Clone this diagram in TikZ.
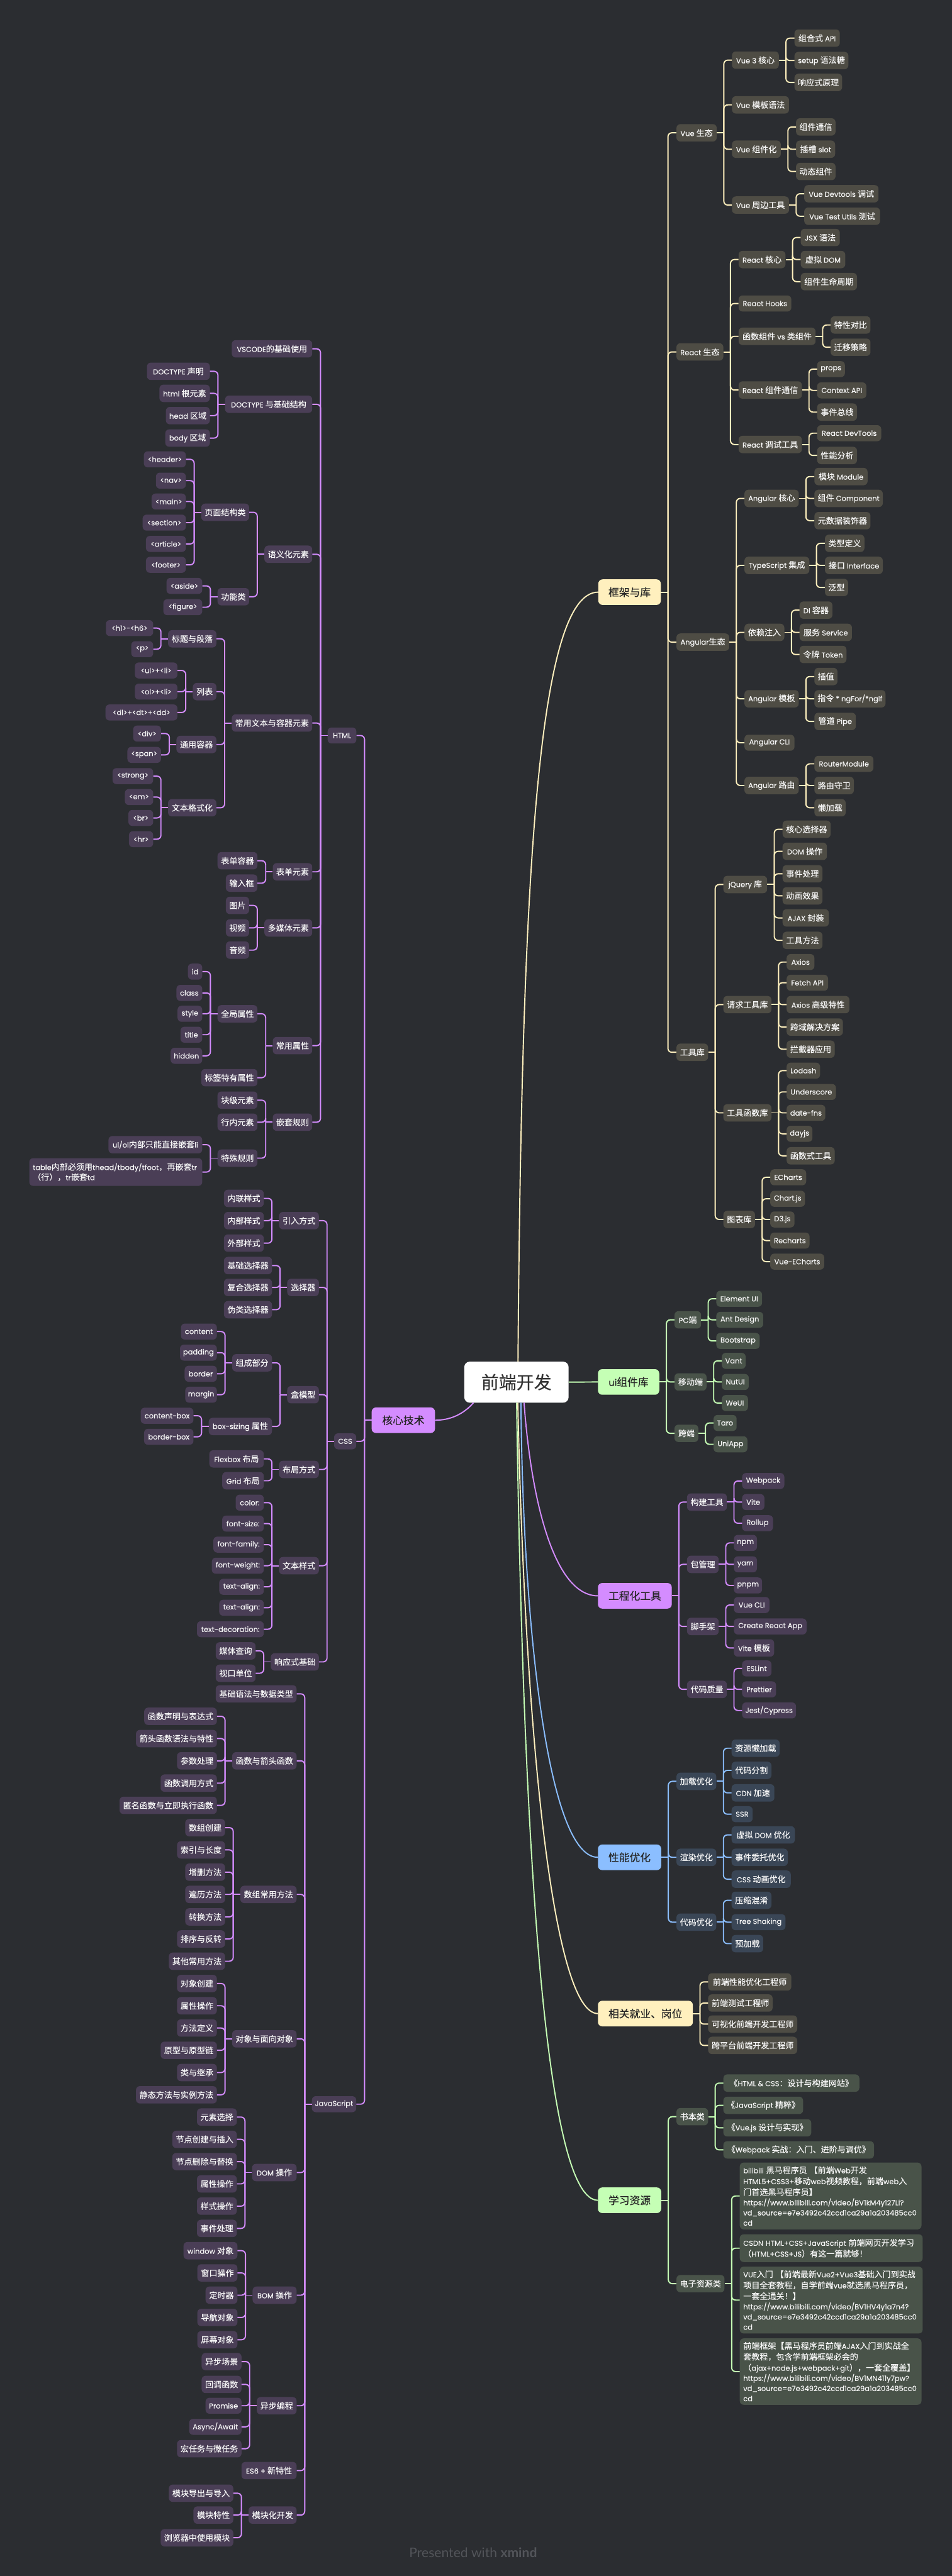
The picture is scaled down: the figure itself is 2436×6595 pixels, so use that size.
\documentclass[tikz,border=0pt]{standalone}
\usepackage{fontspec}
\setmainfont{Poppins}[Scale=0.88,FakeBold=0.2]
\newfontfamily\cjk{Noto Sans CJK SC}[FakeBold=0.25]
\newfontfamily\lat{Poppins}[Scale=0.88,FakeBold=0.2]
\newfontfamily\latofam{Lato}
\XeTeXinterchartokenstate=1
\chardef\cjkcl=7
\newcount\cc
\cc="3000 \loop \XeTeXcharclass\cc=\cjkcl \advance\cc 1 \ifnum\cc<"3040 \repeat
\cc="4E00 \loop \XeTeXcharclass\cc=\cjkcl \advance\cc 1 \ifnum\cc<"A000 \repeat
\cc="FF00 \loop \XeTeXcharclass\cc=\cjkcl \advance\cc 1 \ifnum\cc<"FFF0 \repeat
\XeTeXinterchartoks 0 \cjkcl={\cjk}
\XeTeXinterchartoks \cjkcl 0={\lat}
\XeTeXinterchartoks 4095 \cjkcl={\cjk}
\XeTeXinterchartoks \cjkcl 4095={\lat}
\definecolor{bg}{HTML}{2B2D31}
\definecolor{cy}{HTML}{FFF0BE}
\definecolor{cg}{HTML}{C5FFB5}
\definecolor{cp}{HTML}{D48CFF}
\definecolor{cb}{HTML}{8BBEFF}
\definecolor{fy}{HTML}{4E4C44}
\definecolor{fg}{HTML}{495349}
\definecolor{fp}{HTML}{4A3E56}
\definecolor{fb}{HTML}{3A4656}
\definecolor{tx}{HTML}{F6F6F6}
\definecolor{foot}{HTML}{53555A}
\tikzset{
 anybox/.style={inner sep=0pt,rounded corners=10pt,text=tx,minimum height=44.5pt,align=center,font=\fontsize{21}{26}\selectfont},
 ybox/.style={anybox,fill=fy},
 gbox/.style={anybox,fill=fg},
 pbox/.style={anybox,fill=fp},
 bbox/.style={anybox,fill=fb},
 lat/.style={minimum height=41pt},
 topic/.style={inner sep=0pt,rounded corners=11pt,text=black!85,minimum height=65.5pt,align=center,font=\fontsize{27}{32}\selectfont},
 ly/.style={draw=cy,line width=3.1pt},
 lg/.style={draw=cg,line width=3.1pt},
 lp/.style={draw=cp,line width=3.1pt},
 lb/.style={draw=cb,line width=3.1pt}
}
\newcommand\nd[6]{\pgfmathsetmacro\ncx{(#3+#4)/2}\pgfmathsetmacro\nw{#4-#3}\node[#1,minimum width=\nw pt] (#2) at (\ncx,#5) {#6};}
\newcommand\nm[6]{\pgfmathsetmacro\ncx{(#3+#4)/2}\pgfmathsetmacro\nw{#4-#3}\pgfmathsetmacro\tw{#4-#3-18}\node[#1,minimum width=\nw pt,text width=\tw pt,align=left] (#2) at (\ncx,#5) {#6};}
\newcommand\er[3]{\draw[#1] (#2.east) -- ++(18,0);\foreach \kid in {#3}{\draw[#1,rounded corners=10pt] (#2.east) ++(18,0) |- (\kid.west);}}
\newcommand\el[3]{\draw[#1] (#2.west) -- ++(-18,0);\foreach \kid in {#3}{\draw[#1,rounded corners=10pt] (#2.west) ++(-18,0) |- (\kid.east);}}
\begin{document}
\begin{tikzpicture}[x=1pt,y=-1pt]
\fill[bg] (0,0) rectangle (2436,6595);
\useasboundingbox (0,0) rectangle (2436,6595);
% root and topics
\node[inner sep=0pt,rounded corners=14pt,fill=white,text=black!80,minimum width=267pt,minimum height=105pt,font=\fontsize{45}{50}\selectfont] (root) at (1321.5,3538.5) {前端开发};
\nd{topic,fill=cy}{k1}{1531}{1691}{1516}{框架与库}
\nd{topic,fill=cg}{k2}{1530}{1687}{3538}{ui组件库}
\nd{topic,fill=cp}{k3}{951}{1113}{3636}{核心技术}
\nd{topic,fill=cp}{k4}{1530}{1719}{4085.5}{工程化工具}
\nd{topic,fill=cb}{k5}{1530}{1692}{4755}{性能优化}
\nd{topic,fill=cy}{k6}{1530}{1773}{5155}{相关就业、岗位}
\nd{topic,fill=cg}{k7}{1530}{1692}{5633}{学习资源}
% Vue
\nd{ybox}{vue}{1731}{1834}{340}{Vue 生态}
\nd{ybox}{v1}{1873}{1993}{154}{Vue 3 核心}
\nd{ybox}{v1a}{2033}{2149}{97.6}{组合式 API}
\nd{ybox}{v1b}{2033}{2171}{155}{setup 语法糖}
\nd{ybox}{v1c}{2033}{2155}{211}{响应式原理}
\nd{ybox}{v2}{1873}{2019}{268.5}{Vue 模板语法}
\nd{ybox}{v3}{1873}{1998}{382}{Vue 组件化}
\nd{ybox}{v3a}{2037}{2138}{325}{组件通信}
\nd{ybox}{v3b}{2037}{2137}{382}{插槽 slot}
\nd{ybox}{v3c}{2037}{2138}{439}{动态组件}
\nd{ybox}{v4}{1873}{2019}{525}{Vue 周边工具}
\nd{ybox}{v4a}{2058}{2248}{496}{Vue Devtools 调试}
\nd{ybox}{v4b}{2058}{2252}{553.6}{Vue Test Utils 测试}
% React
\nd{ybox}{rea}{1731}{1851}{901}{React 生态}
\nd{ybox}{r1}{1890}{2010}{664.5}{React 核心}
\nd{ybox}{r1a}{2049}{2149}{608}{JSX 语法}
\nd{ybox}{r1b}{2049}{2163}{664.5}{虚拟 DOM}
\nd{ybox}{r1c}{2049}{2193}{721}{组件生命周期}
\nd{ybox,lat}{r2}{1890}{2025}{777}{React Hooks}
\nd{ybox}{r3}{1890}{2087}{861}{函数组件 vs 类组件}
\nd{ybox}{r3a}{2125.5}{2227.5}{832}{特性对比}
\nd{ybox}{r3b}{2125.5}{2227.5}{889}{迁移策略}
\nd{ybox}{r4}{1890}{2052}{998.5}{React 组件通信}
\nd{ybox,lat}{r4a}{2091}{2162}{945}{props}
\nd{ybox,lat}{r4b}{2091}{2217}{999.5}{Context API}
\nd{ybox}{r4c}{2091}{2193}{1055}{事件总线}
\nd{ybox}{r5}{1890}{2052}{1138}{React 调试工具}
\nd{ybox,lat}{r5a}{2091}{2255}{1109}{React DevTools}
\nd{ybox}{r5b}{2091}{2193}{1166}{性能分析}
% Angular
\nd{ybox}{ang}{1731}{1866}{1644}{Angular生态}
\nd{ybox}{a1}{1905}{2044}{1276}{Angular 核心}
\nd{ybox}{a1a}{2084}{2220}{1220}{模块 Module}
\nd{ybox}{a1b}{2084}{2259}{1276}{组件 Component}
\nd{ybox}{a1c}{2084}{2227.5}{1333}{元数据装饰器}
\nd{ybox}{a2}{1905}{2071}{1447.5}{TypeScript 集成}
\nd{ybox}{a2a}{2111}{2212}{1391}{类型定义}
\nd{ybox}{a2b}{2111}{2259}{1447.5}{接口 Interface}
\nd{ybox}{a2c}{2111}{2170}{1504}{泛型}
\nd{ybox}{a3}{1905}{2007}{1619}{依赖注入}
\nd{ybox}{a3a}{2046}{2130}{1562}{DI 容器}
\nd{ybox}{a3b}{2046}{2180}{1619}{服务 Service}
\nd{ybox}{a3c}{2046}{2166}{1675.5}{令牌 Token}
\nd{ybox}{a4}{1905}{2044}{1789}{Angular 模板}
\nd{ybox}{a4a}{2084}{2143}{1732}{插值}
\nd{ybox}{a4b}{2084}{2266}{1789}{指令 * ngFor/*ngIf}
\nd{ybox}{a4c}{2084}{2190}{1847}{管道 Pipe}
\nd{ybox,lat}{a5}{1905}{2033}{1901.5}{Angular CLI}
\nd{ybox}{a6}{1905}{2044}{2011}{Angular 路由}
\nd{ybox,lat}{a6a}{2084}{2235}{1955.5}{RouterModule}
\nd{ybox}{a6b}{2084}{2185}{2011}{路由守卫}
\nd{ybox}{a6c}{2084}{2164}{2068}{懒加载}
% Tools
\nd{ybox}{too}{1731}{1812}{2694}{工具库}
\nd{ybox}{t1}{1851}{1963}{2264.5}{jQuery 库}
\nd{ybox}{t1a}{2002.5}{2125.5}{2123}{核心选择器}
\nd{ybox}{t1b}{2002.5}{2116}{2179.5}{DOM 操作}
\nd{ybox}{t1c}{2002.5}{2104.6}{2237}{事件处理}
\nd{ybox}{t1d}{2002.5}{2104.6}{2293.5}{动画效果}
\nd{ybox}{t1e}{2002.5}{2121}{2350}{AJAX 封装}
\nd{ybox}{t1f}{2002.5}{2104.6}{2407.5}{工具方法}
\nd{ybox}{t2}{1851}{1974}{2572}{请求工具库}
\nd{ybox,lat}{t2a}{2013}{2084}{2463}{Axios}
\nd{ybox,lat}{t2b}{2013}{2119}{2516}{Fetch API}
\nd{ybox}{t2c}{2013}{2173.5}{2572}{Axios 高级特性}
\nd{ybox}{t2d}{2013}{2157}{2629.5}{跨域解决方案}
\nd{ybox}{t2e}{2013}{2136}{2686}{拦截器应用}
\nd{ybox}{t3}{1851}{1974}{2849}{工具函数库}
\nd{ybox,lat}{t3a}{2013}{2098.5}{2741}{Lodash}
\nd{ybox,lat}{t3b}{2013}{2139}{2795.5}{Underscore}
\nd{ybox,lat}{t3c}{2013}{2112}{2849}{date-fns}
\nd{ybox,lat}{t3d}{2013}{2079}{2902.7}{dayjs}
\nd{ybox}{t3e}{2013}{2136}{2959}{函数式工具}
\nd{ybox}{t4}{1851}{1932}{3122}{图表库}
\nd{ybox,lat}{t4a}{1971}{2063}{3014}{ECharts}
\nd{ybox,lat}{t4b}{1971}{2060}{3069}{Chart.js}
\nd{ybox,lat}{t4c}{1971}{2033}{3122}{D3.js}
\nd{ybox,lat}{t4d}{1971}{2071.5}{3176}{Recharts}
\nd{ybox,lat}{t4e}{1971}{2109}{3230}{Vue-ECharts}
% UI
\nd{gbox}{u1}{1726}{1794}{3379}{PC端}
\nd{gbox,lat}{u1a}{1833}{1950}{3325}{Element UI}
\nd{gbox,lat}{u1b}{1833}{1953}{3379}{Ant Design}
\nd{gbox,lat}{u1c}{1833}{1944}{3433}{Bootstrap}
\nd{gbox}{u2}{1726}{1808}{3538}{移动端}
\nd{gbox,lat}{u2a}{1847}{1908}{3484}{Vant}
\nd{gbox,lat}{u2b}{1847}{1916}{3538}{NutUI}
\nd{gbox,lat}{u2c}{1847}{1914}{3592}{WeUI}
\nd{gbox}{u3}{1726}{1787}{3669.5}{跨端}
\nd{gbox,lat}{u3a}{1826}{1885}{3643}{Taro}
\nd{gbox,lat}{u3b}{1826}{1912.5}{3697.6}{UniApp}
% Engineering
\nd{pbox}{e1}{1758}{1860}{3845.6}{构建工具}
\nd{pbox,lat}{e1a}{1899}{2007}{3791.6}{Webpack}
\nd{pbox,lat}{e1b}{1899}{1956}{3845.6}{Vite}
\nd{pbox,lat}{e1c}{1899}{1978}{3899.6}{Rollup}
\nd{pbox}{e2}{1758}{1839}{4005}{包管理}
\nd{pbox,lat}{e2a}{1878}{1937}{3950}{npm}
\nd{pbox,lat}{e2b}{1878}{1937}{4005}{yarn}
\nd{pbox,lat}{e2c}{1878}{1950}{4059}{pnpm}
\nd{pbox}{e3}{1758}{1839}{4164}{脚手架}
\nd{pbox,lat}{e3a}{1878}{1969}{4109}{Vue CLI}
\nd{pbox,lat}{e3b}{1878}{2064}{4164}{Create React App}
\nd{pbox}{e3c}{1878}{1981}{4219}{Vite 模板}
\nd{pbox}{e4}{1758}{1860}{4325}{代码质量}
\nd{pbox,lat}{e4a}{1899}{1974}{4271.4}{ESLint}
\nd{pbox,lat}{e4b}{1899}{1986}{4325}{Prettier}
\nd{pbox,lat}{e4c}{1899}{2037}{4379}{Jest/Cypress}
% Performance
\nd{bbox}{p1}{1731}{1833}{4560.5}{加载优化}
\nd{bbox}{p1a}{1872}{1995}{4475.6}{资源懒加载}
\nd{bbox}{p1b}{1872}{1974}{4532.4}{代码分割}
\nd{bbox}{p1c}{1872}{1981.6}{4590}{CDN 加速}
\nd{bbox,lat}{p1d}{1872}{1926}{4644.6}{SSR}
\nd{bbox}{p2}{1731}{1833}{4755}{渲染优化}
\nd{bbox}{p2a}{1872}{2034}{4697.6}{虚拟 DOM 优化}
\nd{bbox}{p2b}{1872}{2016}{4755}{事件委托优化}
\nd{bbox}{p2c}{1872}{2023.5}{4811}{CSS 动画优化}
\nd{bbox}{p3}{1731}{1833}{4921}{代码优化}
\nd{bbox}{p3a}{1872}{1974}{4865}{压缩混淆}
\nd{bbox,lat}{p3b}{1872}{2010}{4921}{Tree Shaking}
\nd{bbox}{p3c}{1872}{1953}{4976}{预加载}
% Jobs
\nd{ybox}{j1}{1812}{2025}{5074}{前端性能优化工程师}
\nd{ybox}{j2}{1812}{1977}{5128}{前端测试工程师}
\nd{ybox}{j3}{1812}{2040}{5182}{可视化前端开发工程师}
\nd{ybox}{j4}{1812}{2040}{5236.5}{跨平台前端开发工程师}
% Learning
\nd{gbox}{l1}{1731}{1812}{5419}{书本类}
\nd{gbox}{l1a}{1851}{2199}{5333}{《HTML \& CSS：设计与构建网站》}
\nd{gbox}{l1b}{1851}{2055}{5390}{《JavaScript 精粹》}
\nd{gbox}{l1c}{1851}{2076}{5447.5}{《Vue.js 设计与实现》}
\nd{gbox}{l1d}{1851}{2236.5}{5504}{《Webpack 实战：入门、进阶与调优》}
\nd{gbox}{l2}{1731}{1854}{5846.5}{电子资源类}
\nm{gbox,minimum height=171pt}{l2a}{1893}{2358}{5622}{bilibili 黑马程序员 【前端Web开发\\[2pt]HTML5+CSS3+移动web视频教程，前端web入\\[2pt]门首选黑马程序员】\\https://www.bilibili.com/video/BV1kM4y127Li?\\vd\_source=e7e3492c42ccd1ca29a1a203485cc0\\cd}
\nm{gbox,minimum height=71pt}{l2b}{1893}{2361}{5755.6}{CSDN HTML+CSS+JavaScript 前端网页开发学习\\[2pt]（HTML+CSS+JS）有这一篇就够！}
\nm{gbox,minimum height=171pt}{l2c}{1893}{2361}{5888.5}{VUE入门 【前端最新Vue2+Vue3基础入门到实战\\[2pt]项目全套教程，自学前端vue就选黑马程序员，\\[2pt]一套全通关！】\\https://www.bilibili.com/video/BV1HV4y1a7n4?\\vd\_source=e7e3492c42ccd1ca29a1a203485cc0\\cd}
\nm{gbox,minimum height=170pt}{l2d}{1893}{2358}{6071.6}{前端框架【黑马程序员前端AJAX入门到实战全\\[2pt]套教程，包含学前端框架必会的\\[2pt]（ajax+node.js+webpack+git），一套全覆盖】\\https://www.bilibili.com/video/BV1MN411y7pw?\\vd\_source=e7e3492c42ccd1ca29a1a203485cc0\\cd}
% HTML
\nd{pbox,lat}{html}{838.4}{912}{1883}{HTML}
\nd{pbox}{h1}{593}{799}{893}{VSCODE的基础使用}
\nd{pbox}{h2}{576}{799}{1035}{DOCTYPE 与基础结构}
\nd{pbox}{h2a}{376}{537}{950.6}{DOCTYPE 声明}
\nd{pbox}{h2b}{408}{537}{1007}{html 根元素}
\nd{pbox}{h2c}{424.5}{537}{1064}{head 区域}
\nd{pbox}{h2d}{423}{537}{1121.5}{body 区域}
\nd{pbox}{h3}{676.5}{799}{1419}{语义化元素}
\nd{pbox}{h31}{515}{637.5}{1311.5}{页面结构类}
\nd{pbox,lat}{h31a}{368}{475.6}{1176}{<header>}
\nd{pbox,lat}{h31b}{399}{475.6}{1230.5}{<nav>}
\nd{pbox,lat}{h31c}{388}{475.6}{1284}{<main>}
\nd{pbox,lat}{h31d}{365}{475.6}{1338}{<section>}
\nd{pbox,lat}{h31e}{373.5}{475.6}{1392.5}{<article>}
\nd{pbox,lat}{h31f}{373.5}{475.6}{1446}{<footer>}
\nd{pbox}{h32}{556.6}{637.5}{1527.7}{功能类}
\nd{pbox,lat}{h32a}{426}{517.5}{1500}{<aside>}
\nd{pbox,lat}{h32b}{418}{517.5}{1554.5}{<figure>}
\nd{pbox}{h4}{593}{799}{1851}{常用文本与容器元素}
\nd{pbox}{h41}{430}{553.7}{1635.5}{标题与段落}
\nd{pbox,lat}{h41a}{271}{392}{1608}{<h1>-<h6>}
\nd{pbox,lat}{h41b}{336}{392}{1662}{<p>}
\nd{pbox}{h42}{493.4}{553.7}{1770.7}{列表}
\nd{pbox,lat}{h42a}{345}{454}{1716.5}{<ul>+<li>}
\nd{pbox,lat}{h42b}{345}{454}{1770.7}{<ol>+<li>}
\nd{pbox,lat}{h42c}{270}{454}{1824}{<dl>+<dt>+<dd>}
\nd{pbox}{h43}{451.5}{553.7}{1906}{通用容器}
\nd{pbox,lat}{h43a}{340.7}{412}{1878}{<div>}
\nd{pbox,lat}{h43b}{326}{412}{1932.6}{<span>}
\nd{pbox}{h44}{430}{553.7}{2068}{文本格式化}
\nd{pbox,lat}{h44a}{288}{392}{1987}{<strong>}
\nd{pbox,lat}{h44b}{319.5}{392}{2040.6}{<em>}
\nd{pbox,lat}{h44c}{328.6}{392}{2094}{<br>}
\nd{pbox,lat}{h44d}{330}{392}{2148.5}{<hr>}
\nd{pbox}{h5}{698}{799}{2232}{表单元素}
\nd{pbox}{h5a}{556.6}{658.7}{2203.6}{表单容器}
\nd{pbox}{h5b}{578}{658.7}{2261}{输入框}
\nd{pbox}{h6}{676.5}{799}{2375.6}{多媒体元素}
\nd{pbox}{h6a}{578}{637.5}{2318}{图片}
\nd{pbox}{h6b}{578}{637.5}{2375.6}{视频}
\nd{pbox}{h6c}{578}{637.5}{2432.4}{音频}
\nd{pbox}{h7}{698}{799}{2677}{常用属性}
\nd{pbox}{h71}{556.6}{658.7}{2595.4}{全局属性}
\nd{pbox,lat}{h71a}{481}{517.5}{2487.5}{id}
\nd{pbox,lat}{h71b}{451.5}{517.5}{2542}{class}
\nd{pbox,lat}{h71c}{454.4}{517.5}{2595.4}{style}
\nd{pbox,lat}{h71d}{462}{517.5}{2649}{title}
\nd{pbox,lat}{h71e}{436.6}{517.5}{2703}{hidden}
\nd{pbox}{h72}{515}{658.7}{2759}{标签特有属性}
\nd{pbox}{h8}{698}{799}{2873}{嵌套规则}
\nd{pbox}{h8a}{556.6}{658.7}{2816.6}{块级元素}
\nd{pbox}{h8b}{556.6}{658.7}{2873}{行内元素}
\nd{pbox}{h8c}{556.6}{658.7}{2965}{特殊规则}
\nd{pbox}{h8c1}{277.6}{517.5}{2930.6}{ul/ol内部只能直接嵌套li}
\nm{pbox,minimum height=71pt}{h8c2}{75}{517.5}{3000.6}{table内部必须用thead/tbody/tfoot，再嵌套tr\\（行），tr嵌套td}
% CSS
\nd{pbox,lat}{css}{855}{911.6}{3690}{CSS}
\nd{pbox}{c1}{714}{816}{3125}{引入方式}
\nd{pbox}{c1a}{573}{675}{3068}{内联样式}
\nd{pbox}{c1b}{573}{675}{3125}{内部样式}
\nd{pbox}{c1c}{573}{675}{3182.6}{外部样式}
\nd{pbox}{c2}{735}{816}{3296}{选择器}
\nd{pbox}{c2a}{573}{696}{3240}{基础选择器}
\nd{pbox}{c2b}{573}{696}{3296}{复合选择器}
\nd{pbox}{c2c}{573}{696}{3353}{伪类选择器}
\nd{pbox}{c3}{735}{816}{3570.6}{盒模型}
\nd{pbox}{c31}{594}{696}{3489}{组成部分}
\nd{pbox,lat}{c31a}{463}{555}{3409}{content}
\nd{pbox,lat}{c31b}{460.6}{555}{3463}{padding}
\nd{pbox,lat}{c31c}{472.5}{555}{3517}{border}
\nd{pbox,lat}{c31d}{474}{555}{3570.6}{margin}
\nd{pbox}{c32}{534}{696}{3652}{box-sizing 属性}
\nd{pbox,lat}{c32a}{360}{495}{3624.5}{content-box}
\nd{pbox,lat}{c32b}{368.7}{495}{3678.4}{border-box}
\nd{pbox}{c4}{714}{816}{3762}{布局方式}
\nd{pbox}{c4a}{535.6}{675}{3735}{Flexbox 布局}
\nd{pbox}{c4b}{568.6}{675}{3791}{Grid 布局}
\nd{pbox}{c5}{714}{816}{4008.4}{文本样式}
\nd{pbox,lat}{c5a}{603}{675}{3847}{color:}
\nd{pbox,lat}{c5b}{568.6}{675}{3900.6}{font-size:}
\nd{pbox,lat}{c5c}{546}{675}{3954.5}{font-family:}
\nd{pbox,lat}{c5d}{542}{675}{4008.4}{font-weight:}
\nd{pbox,lat}{c5e}{561}{675}{4062.4}{text-align:}
\nd{pbox,lat}{c5f}{561}{675}{4116}{text-align:}
\nd{pbox,lat}{c5g}{504}{675}{4171}{text-decoration:}
\nd{pbox}{c6}{693}{816}{4254.7}{响应式基础}
\nd{pbox}{c6a}{552}{654}{4226.5}{媒体查询}
\nd{pbox}{c6b}{552}{654}{4283.7}{视口单位}
% JavaScript
\nd{pbox,lat}{js}{798}{911.6}{5387}{JavaScript}
\nd{pbox}{s1}{552}{759}{4336.5}{基础语法与数据类型}
\nd{pbox}{s2}{594}{759}{4508}{函数与箭头函数}
\nd{pbox}{s2a}{369}{555}{4394}{函数声明与表达式}
\nd{pbox}{s2b}{348}{555}{4451}{箭头函数语法与特性}
\nd{pbox}{s2c}{453}{555}{4508}{参数处理}
\nd{pbox}{s2d}{411}{555}{4565}{函数调用方式}
\nd{pbox}{s2e}{306}{555}{4622}{匿名函数与立即执行函数}
\nd{pbox}{s3}{615}{759}{4850}{数组常用方法}
\nd{pbox}{s3a}{474}{576}{4679}{数组创建}
\nd{pbox}{s3b}{453}{576}{4736}{索引与长度}
\nd{pbox}{s3c}{474}{576}{4793}{增删方法}
\nd{pbox}{s3d}{474}{576}{4850}{遍历方法}
\nd{pbox}{s3e}{474}{576}{4907.5}{转换方法}
\nd{pbox}{s3f}{453}{576}{4964}{排序与反转}
\nd{pbox}{s3g}{432}{576}{5021}{其他常用方法}
\nd{pbox}{s4}{594}{759}{5219.7}{对象与面向对象}
\nd{pbox}{s4a}{453}{555}{5078}{对象创建}
\nd{pbox}{s4b}{453}{555}{5135}{属性操作}
\nd{pbox}{s4c}{453}{555}{5192}{方法定义}
\nd{pbox}{s4d}{411}{555}{5249}{原型与原型链}
\nd{pbox}{s4e}{453}{555}{5306}{类与继承}
\nd{pbox}{s4f}{348}{555}{5363}{静态方法与实例方法}
\nd{pbox}{s5}{645}{759}{5562}{DOM 操作}
\nd{pbox}{s5a}{504}{606}{5420}{元素选择}
\nd{pbox}{s5b}{441}{606}{5477}{节点创建与插入}
\nd{pbox}{s5c}{441}{606}{5534}{节点删除与替换}
\nd{pbox}{s5d}{504}{606}{5591}{属性操作}
\nd{pbox}{s5e}{504}{606}{5648}{样式操作}
\nd{pbox}{s5f}{504}{606}{5705}{事件处理}
\nd{pbox}{s6}{646.4}{759}{5876}{BOM 操作}
\nd{pbox}{s6a}{469.6}{607.6}{5762}{window 对象}
\nd{pbox}{s6b}{505}{607.6}{5819}{窗口操作}
\nd{pbox}{s6c}{526}{607.6}{5876}{定时器}
\nd{pbox}{s6d}{505}{607.6}{5933}{导航对象}
\nd{pbox}{s6e}{505}{607.6}{5990}{屏幕对象}
\nd{pbox}{s7}{657}{759}{6159}{异步编程}
\nd{pbox}{s7a}{516}{618}{6046}{异步场景}
\nd{pbox}{s7b}{516}{618}{6104.5}{回调函数}
\nd{pbox,lat}{s7c}{526}{618}{6159}{Promise}
\nd{pbox,lat}{s7d}{484}{618}{6213}{Async/Await}
\nd{pbox}{s7e}{453}{618}{6269}{宏任务与微任务}
\nd{pbox}{s8}{618}{759}{6325}{ES6 + 新特性}
\nd{pbox}{s9}{636}{759}{6439}{模块化开发}
\nd{pbox}{s9a}{432}{597}{6383}{模块导出与导入}
\nd{pbox}{s9b}{495}{597}{6439}{模块特性}
\nd{pbox}{s9c}{411}{597}{6497}{浏览器中使用模块}
\node[inner sep=0pt,text=foot,anchor=base west,font={\latofam\fontsize{34}{40}\selectfont}] (brand) at (1047,6548) {Presented with \textbf{xmind}};
% connectors
\draw[ly] ([xshift=4pt]root.north) .. controls (1335,2200) and (1380,1516) .. (k1.west);
\draw[lg] (root.east) -- (k2.west);
\draw[lp] ([xshift=-110pt]root.south) .. controls (1185,3622) and (1150,3636) .. (k3.east);
\draw[lp] ([xshift=19.5pt]root.south) .. controls (1360,3850) and (1420,4085.5) .. (k4.west);
\draw[lb] ([xshift=11.5pt]root.south) .. controls (1338,4150) and (1400,4755) .. (k5.west);
\draw[ly] ([xshift=3.5pt]root.south) .. controls (1345,4500) and (1420,5155) .. (k6.west);
\draw[lg] ([xshift=0.5pt]root.south) .. controls (1340,4800) and (1400,5633) .. (k7.west);
\er{ly}{k1}{vue,rea,ang,too}
\er{ly}{vue}{v1,v2,v3,v4}
\er{ly}{v1}{v1a,v1b,v1c}
\er{ly}{v3}{v3a,v3b,v3c}
\er{ly}{v4}{v4a,v4b}
\er{ly}{rea}{r1,r2,r3,r4,r5}
\er{ly}{r1}{r1a,r1b,r1c}
\er{ly}{r3}{r3a,r3b}
\er{ly}{r4}{r4a,r4b,r4c}
\er{ly}{r5}{r5a,r5b}
\er{ly}{ang}{a1,a2,a3,a4,a5,a6}
\er{ly}{a1}{a1a,a1b,a1c}
\er{ly}{a2}{a2a,a2b,a2c}
\er{ly}{a3}{a3a,a3b,a3c}
\er{ly}{a4}{a4a,a4b,a4c}
\er{ly}{a6}{a6a,a6b,a6c}
\er{ly}{too}{t1,t2,t3,t4}
\er{ly}{t1}{t1a,t1b,t1c,t1d,t1e,t1f}
\er{ly}{t2}{t2a,t2b,t2c,t2d,t2e}
\er{ly}{t3}{t3a,t3b,t3c,t3d,t3e}
\er{ly}{t4}{t4a,t4b,t4c,t4d,t4e}
\er{lg}{k2}{u1,u2,u3}
\er{lg}{u1}{u1a,u1b,u1c}
\er{lg}{u2}{u2a,u2b,u2c}
\er{lg}{u3}{u3a,u3b}
\er{lp}{k4}{e1,e2,e3,e4}
\er{lp}{e1}{e1a,e1b,e1c}
\er{lp}{e2}{e2a,e2b,e2c}
\er{lp}{e3}{e3a,e3b,e3c}
\er{lp}{e4}{e4a,e4b,e4c}
\er{lb}{k5}{p1,p2,p3}
\er{lb}{p1}{p1a,p1b,p1c,p1d}
\er{lb}{p2}{p2a,p2b,p2c}
\er{lb}{p3}{p3a,p3b,p3c}
\er{ly}{k6}{j1,j2,j3,j4}
\er{lg}{k7}{l1,l2}
\er{lg}{l1}{l1a,l1b,l1c,l1d}
\er{lg}{l2}{l2a,l2b,l2c,l2d}
\el{lp}{k3}{html,css,js}
\el{lp}{html}{h1,h2,h3,h4,h5,h6,h7,h8}
\el{lp}{h2}{h2a,h2b,h2c,h2d}
\el{lp}{h3}{h31,h32}
\el{lp}{h31}{h31a,h31b,h31c,h31d,h31e,h31f}
\el{lp}{h32}{h32a,h32b}
\el{lp}{h4}{h41,h42,h43,h44}
\el{lp}{h41}{h41a,h41b}
\el{lp}{h42}{h42a,h42b,h42c}
\el{lp}{h43}{h43a,h43b}
\el{lp}{h44}{h44a,h44b,h44c,h44d}
\el{lp}{h5}{h5a,h5b}
\el{lp}{h6}{h6a,h6b,h6c}
\el{lp}{h7}{h71,h72}
\el{lp}{h71}{h71a,h71b,h71c,h71d,h71e}
\el{lp}{h8}{h8a,h8b,h8c}
\el{lp}{h8c}{h8c1,h8c2}
\el{lp}{css}{c1,c2,c3,c4,c5,c6}
\el{lp}{c1}{c1a,c1b,c1c}
\el{lp}{c2}{c2a,c2b,c2c}
\el{lp}{c3}{c31,c32}
\el{lp}{c31}{c31a,c31b,c31c,c31d}
\el{lp}{c32}{c32a,c32b}
\el{lp}{c4}{c4a,c4b}
\el{lp}{c5}{c5a,c5b,c5c,c5d,c5e,c5f,c5g}
\el{lp}{c6}{c6a,c6b}
\el{lp}{js}{s1,s2,s3,s4,s5,s6,s7,s8,s9}
\el{lp}{s2}{s2a,s2b,s2c,s2d,s2e}
\el{lp}{s3}{s3a,s3b,s3c,s3d,s3e,s3f,s3g}
\el{lp}{s4}{s4a,s4b,s4c,s4d,s4e,s4f}
\el{lp}{s5}{s5a,s5b,s5c,s5d,s5e,s5f}
\el{lp}{s6}{s6a,s6b,s6c,s6d,s6e}
\el{lp}{s7}{s7a,s7b,s7c,s7d,s7e}
\el{lp}{s9}{s9a,s9b,s9c}
\end{tikzpicture}
\end{document}
